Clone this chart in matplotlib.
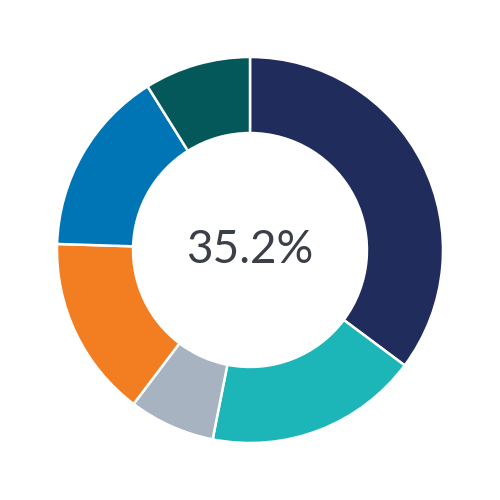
import matplotlib.pyplot as plt

# share of each segment, clockwise from 12 o'clock
shares = [35.2, 17.9, 7.2, 15.2, 15.6, 8.9]
colors = ["#1f2c5c", "#1cb5b8", "#a8b3c2", "#f37d21", "#0075b6", "#04585a"]
center_label = "35.2%"

fig = plt.figure(figsize=(5, 5), dpi=100)
ax = fig.add_axes([0, 0, 1, 1])

ax.pie(shares, colors=colors, startangle=90, counterclock=False,
       radius=1.0,
       wedgeprops=dict(width=0.394, edgecolor="white", linewidth=1.8))

ax.text(0, 0.0, center_label, ha="center", va="center",
        fontsize=33, family="Lato", fontweight="normal", color="#3b3f48")

lim = 250 / 193
ax.set_xlim(-lim, lim)
ax.set_ylim(-lim, lim)
ax.set_aspect("equal")
ax.axis("off")

fig.savefig("out.png", dpi=100, facecolor="white")
